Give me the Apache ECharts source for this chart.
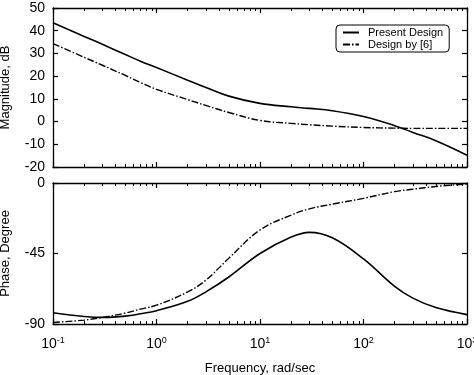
<!DOCTYPE html>
<html>
<head>
<meta charset="utf-8">
<script src="https://cdn.jsdelivr.net/npm/echarts@6/dist/echarts.min.js"></script>
<style>
  html, body { margin: 0; padding: 0; background: #fff; }
  #chart { width: 474px; height: 375px; }
</style>
</head>
<body>
<div id="chart"></div>
<script>
const freq = [0.1, 0.2, 0.3, 0.5, 0.7, 1, 2, 3, 5, 10, 20, 30, 50, 100, 200, 300, 500, 1000];

// magnitude, dB
const magPresent = [43.5, 37.5, 34, 29.5, 26.6, 23.8, 18.2, 15, 11.2, 8.0, 6.5, 5.8, 4.8, 2.2, -1.8, -4.8, -8.4, -14.8];
const magRef = [34.3, 28.3, 24.8, 20.3, 17.2, 14.2, 9.7, 7.1, 4.0, 0.5, -0.8, -1.4, -2.0, -2.6, -2.9, -3, -3, -3];

// phase, degree
const phasePresent = [-82.8, -85.2, -85.8, -85, -83.5, -81.5, -75.5, -69.5, -60, -45, -34.5, -31.5, -35, -48.5, -66, -73.5, -79.5, -84];
const phaseRef = [-89, -87.5, -85.8, -83, -80.5, -78, -69.5, -62, -48, -30, -20.5, -16.5, -13.5, -9.8, -5.5, -4, -2.2, -0.6];

// minor ticks of the log axis
const minorTicks = [0.2, 0.3, 0.4, 0.5, 0.6, 0.7, 0.8, 0.9,
  2, 3, 4, 5, 6, 7, 8, 9,
  20, 30, 40, 50, 60, 70, 80, 90,
  200, 300, 400, 500, 600, 700, 800, 900];

const seriesNames = ['Present Design', 'Design by [6]'];

const FONT = 'Liberation Sans, Arial, sans-serif';
const chart = echarts.init(document.getElementById('chart'), null, { renderer: 'canvas' });

const pairs = (ys) => freq.map((f, i) => [f, ys[i]]);

// one log axis; variants for major/minor and top/bottom edges
function xAxis(grid, position, minor, labels) {
  return {
    type: 'log',
    logBase: 10,
    gridIndex: grid,
    position: position,
    min: 0.1,
    max: 1000,
    axisLine: { show: !minor, onZero: false, lineStyle: { color: '#000', width: 1.3 } },
    axisTick: minor
      ? { show: true, inside: true, length: 3, customValues: minorTicks, lineStyle: { color: '#000', width: 1 } }
      : { show: true, inside: true, length: 5, lineStyle: { color: '#000', width: 1.2 } },
    splitLine: { show: false },
    minorTick: { show: false },
    axisLabel: labels ? {
      show: true,
      margin: 12,
      formatter: (v) => '{b|10}{s|' + Math.round(Math.log10(v)) + '}',
      rich: {
        b: { fontSize: 14, fontFamily: FONT, color: '#000' },
        s: { fontSize: 9, fontFamily: FONT, color: '#000', verticalAlign: 'top', padding: [0, 0, 8, 0] }
      }
    } : { show: false },
    name: labels ? 'Frequency, rad/sec' : '',
    nameLocation: 'middle',
    nameGap: 38,
    nameTextStyle: { fontSize: 13, fontFamily: FONT, color: '#000' }
  };
}

function yAxis(grid, position, min, max, interval, name) {
  const left = position === 'left';
  return {
    type: 'value',
    gridIndex: grid,
    position: position,
    min: min,
    max: max,
    interval: interval,
    axisLine: { show: true, onZero: false, lineStyle: { color: '#000', width: 1.3 } },
    axisTick: { show: true, inside: true, length: 5, lineStyle: { color: '#000', width: 1.2 } },
    splitLine: { show: false },
    axisLabel: left ? { show: true, margin: 8, fontSize: 14, fontFamily: FONT, color: '#000' } : { show: false },
    name: left ? name : '',
    nameLocation: 'middle',
    nameGap: 41,
    nameTextStyle: { fontSize: 13, fontFamily: FONT, color: '#000' }
  };
}

const solid = { color: '#000', width: 1.6, type: 'solid' };
const dashDot = { color: '#000', width: 1.4, type: [7, 2, 1.5, 2] };

const option = {
  animation: false,
  backgroundColor: '#fff',
  grid: [
    { left: 53, top: 8, width: 414, height: 159, outerBoundsMode: 'none' },
    { left: 53, top: 183, width: 414, height: 141, outerBoundsMode: 'none' }
  ],
  xAxis: [
    xAxis(0, 'bottom', false, false),
    xAxis(0, 'bottom', true, false),
    xAxis(0, 'top', false, false),
    xAxis(0, 'top', true, false),
    xAxis(1, 'bottom', false, true),
    xAxis(1, 'bottom', true, false),
    xAxis(1, 'top', false, false),
    xAxis(1, 'top', true, false)
  ],
  yAxis: [
    yAxis(0, 'left', -20, 50, 10, 'Magnitude, dB'),
    yAxis(0, 'right', -20, 50, 10, ''),
    yAxis(1, 'left', -90, 0, 45, 'Phase, Degree'),
    yAxis(1, 'right', -90, 0, 45, '')
  ],
  legend: {
    left: 336,
    top: 25,
    orient: 'vertical',
    data: seriesNames,
    backgroundColor: '#fff',
    borderColor: '#000',
    borderWidth: 1,
    borderRadius: 4,
    padding: [2, 6, 2, 6],
    itemGap: 1,
    itemWidth: 16,
    itemHeight: 10,
    itemStyle: { color: 'transparent', borderWidth: 0, opacity: 0 },
    textStyle: { fontSize: 11, fontFamily: FONT, color: '#000', padding: [0, 0, 0, 4] }
  },
  series: [
    { name: seriesNames[0], type: 'line', xAxisIndex: 0, yAxisIndex: 0, data: pairs(magPresent),
      smooth: 0.4, symbol: 'none', lineStyle: solid, itemStyle: { color: '#000' } },
    { name: seriesNames[1], type: 'line', xAxisIndex: 0, yAxisIndex: 0, data: pairs(magRef),
      smooth: 0.4, symbol: 'none', lineStyle: dashDot, itemStyle: { color: '#000' } },
    { name: seriesNames[0], type: 'line', xAxisIndex: 4, yAxisIndex: 2, data: pairs(phasePresent),
      smooth: 0.4, symbol: 'none', lineStyle: solid, itemStyle: { color: '#000' } },
    { name: seriesNames[1], type: 'line', xAxisIndex: 4, yAxisIndex: 2, data: pairs(phaseRef),
      smooth: 0.4, symbol: 'none', lineStyle: dashDot, itemStyle: { color: '#000' } }
  ]
};

chart.setOption(option);
</script>
</body>
</html>
